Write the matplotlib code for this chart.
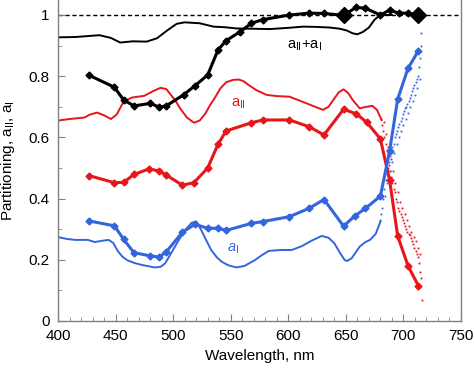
import matplotlib
matplotlib.use("Agg")
import matplotlib.pyplot as plt
from matplotlib.ticker import MultipleLocator, FuncFormatter

plt.rcParams['font.family'] = ['Liberation Sans', 'DejaVu Sans']
plt.rcParams['mathtext.fontset'] = 'custom'
plt.rcParams['mathtext.rm'] = 'Liberation Sans'
plt.rcParams['mathtext.it'] = 'Liberation Sans:italic'

# ---- data ----
black_x = [427, 449, 457, 466, 480, 488, 494, 509, 519, 530, 539, 546, 558, 568, 578, 601, 618, 631, 648, 659, 667, 680, 688, 696, 704, 713]
black_y = [0.803, 0.764, 0.722, 0.703, 0.711, 0.699, 0.703, 0.739, 0.769, 0.804, 0.886, 0.916, 0.945, 0.973, 0.985, 1.0, 1.006, 1.005, 0.999, 1.025, 1.022, 1.0, 1.016, 1.006, 1.006, 1.0]
black_big_idx = [18, 25]

red_x = [427, 449, 457, 466, 479, 488, 494, 508, 518, 530, 539, 546, 568, 578, 601, 618, 631, 648, 659, 668, 680, 688, 695, 704, 713]
red_y = [0.475, 0.452, 0.453, 0.479, 0.497, 0.490, 0.477, 0.444, 0.452, 0.500, 0.578, 0.621, 0.648, 0.657, 0.657, 0.635, 0.608, 0.692, 0.677, 0.650, 0.595, 0.46, 0.278, 0.180, 0.115]

blue_x = [427, 449, 457, 466, 480, 488, 494, 508, 519, 530, 539, 546, 568, 578, 601, 618, 631, 648, 658, 667, 680, 688, 695, 704, 713]
blue_y = [0.327, 0.311, 0.267, 0.223, 0.213, 0.209, 0.226, 0.290, 0.316, 0.303, 0.303, 0.296, 0.319, 0.325, 0.341, 0.368, 0.397, 0.310, 0.344, 0.368, 0.408, 0.556, 0.725, 0.826, 0.883]

black_thin_x = [400, 415, 436, 446, 454, 465, 477, 486, 495, 503, 510, 523, 535, 545, 555, 570, 584, 600, 613, 625, 636, 645, 651, 656, 660, 665, 670, 675, 680, 690]
black_thin_y = [0.927, 0.928, 0.934, 0.925, 0.910, 0.914, 0.913, 0.924, 0.950, 0.971, 0.976, 0.973, 0.962, 0.960, 0.956, 0.955, 0.954, 0.958, 0.962, 0.961, 0.959, 0.955, 0.949, 0.940, 0.937, 0.945, 0.959, 0.985, 1.0, 1.0]

red_thin_x = [400, 410, 423, 428, 434, 440, 446, 451, 457, 464, 475, 483, 489, 494, 497, 502, 506, 512, 518, 523, 528, 532, 536, 541, 546, 552, 557, 561, 566, 572, 581, 590, 601, 610, 620, 630, 635, 639, 644, 648, 652, 656, 662, 668, 673, 677, 681]
red_thin_y = [0.655, 0.660, 0.665, 0.675, 0.681, 0.672, 0.660, 0.675, 0.717, 0.730, 0.736, 0.752, 0.762, 0.758, 0.744, 0.720, 0.695, 0.665, 0.648, 0.655, 0.678, 0.705, 0.728, 0.760, 0.780, 0.788, 0.789, 0.784, 0.770, 0.755, 0.739, 0.735, 0.733, 0.720, 0.705, 0.690, 0.700, 0.722, 0.748, 0.757, 0.745, 0.722, 0.695, 0.700, 0.703, 0.690, 0.657]

blue_thin_x = [400, 408, 415, 426, 432, 438, 444, 448, 452, 456, 460, 466, 473, 480, 484, 489, 493, 498, 504, 510, 516, 520, 524, 529, 533, 538, 542, 548, 555, 562, 571, 577, 583, 593, 603, 612, 620, 629, 635, 640, 645, 649, 651, 655, 662, 667, 671, 676, 680]
blue_thin_y = [0.274, 0.268, 0.265, 0.265, 0.258, 0.262, 0.265, 0.255, 0.228, 0.210, 0.199, 0.190, 0.183, 0.178, 0.175, 0.177, 0.188, 0.220, 0.259, 0.295, 0.321, 0.325, 0.300, 0.262, 0.232, 0.208, 0.194, 0.182, 0.175, 0.180, 0.199, 0.215, 0.229, 0.232, 0.232, 0.245, 0.262, 0.278, 0.272, 0.254, 0.222, 0.199, 0.196, 0.205, 0.243, 0.258, 0.265, 0.285, 0.325]

red_dot_x = [680.5, 681.5, 682.5, 683.5, 684.5, 685.5, 686.5, 687.5, 688.5, 689.5, 690.5, 691.5, 692.5, 693.5, 694.5, 695.5, 696.5, 697.5, 698.5, 699.5, 700.5, 701.5, 702.5, 703.5, 704.5, 705.5, 706.5, 707.5, 708.5, 709.5, 710.5, 711.5, 712.5, 713.5, 714.5, 715.5, 715.8,
             683, 685, 687, 689, 691, 693, 695, 697, 699, 701, 703, 705, 707, 709, 711, 712.5, 714]
red_dot_y = [0.66, 0.64, 0.62, 0.60, 0.58, 0.56, 0.54, 0.51, 0.49, 0.47, 0.45, 0.43, 0.42, 0.40, 0.39, 0.37, 0.36, 0.35, 0.34, 0.33, 0.32, 0.31, 0.30, 0.29, 0.285, 0.28, 0.27, 0.26, 0.25, 0.24, 0.23, 0.22, 0.21, 0.19, 0.16, 0.14, 0.07,
             0.65, 0.61, 0.57, 0.53, 0.49, 0.45, 0.42, 0.39, 0.37, 0.35, 0.33, 0.31, 0.29, 0.275, 0.26, 0.24, 0.22]

blue_dot_x = [679.5, 680.5, 681.5, 682.5, 683.5, 684.5, 685.5, 686.5, 687.5, 688.5, 689.5, 690.5, 691.5, 692.5, 693.5, 694.5, 695.5, 696.5, 697.5, 698.5, 699.5, 700.5, 701.5, 702.5, 703.5, 704.5, 705.5, 706.5, 707.5, 708.5, 709.5, 710.5, 711.5, 712.5, 713.5, 714.5, 715, 715.5,
              684, 686, 688, 690, 692, 694, 696, 698, 700, 702, 704, 706, 708, 710, 712, 714]
blue_dot_y = [0.33, 0.35, 0.37, 0.40, 0.43, 0.46, 0.48, 0.50, 0.52, 0.54, 0.55, 0.57, 0.58, 0.60, 0.61, 0.62, 0.635, 0.645, 0.655, 0.665, 0.675, 0.685, 0.695, 0.70, 0.71, 0.72, 0.73, 0.74, 0.75, 0.76, 0.77, 0.78, 0.79, 0.80, 0.83, 0.86, 0.90, 0.94,
              0.41, 0.45, 0.49, 0.52, 0.55, 0.58, 0.60, 0.62, 0.64, 0.66, 0.68, 0.70, 0.72, 0.74, 0.76, 0.79]

RED = "#e8151b"
BLUE = "#3366dd"

fig = plt.figure(figsize=(4.74, 3.70), dpi=100)
ax = fig.add_axes([58/474, 49/370, 403/474, 321/370])

ax.axhline(1.0, color="black", lw=1.0, ls=(0, (3, 2)), zorder=1)

ax.plot(black_thin_x, black_thin_y, color="black", lw=1.4, zorder=2)
ax.plot(red_thin_x, red_thin_y, color=RED, lw=1.4, zorder=2)
ax.plot(blue_thin_x, blue_thin_y, color=BLUE, lw=1.4, zorder=2)

ax.plot(red_dot_x, red_dot_y, ls="none", marker="s", ms=1.3, mew=0, color=RED, zorder=2)
ax.plot(blue_dot_x, blue_dot_y, ls="none", marker="s", ms=1.3, mew=0, color=BLUE, zorder=2)

ax.plot(black_x, black_y, color="black", lw=2.2, marker="D", ms=3.5, zorder=3)
ax.plot([black_x[i] for i in black_big_idx], [black_y[i] for i in black_big_idx],
        ls="none", marker="D", ms=8, color="black", zorder=4)
ax.plot(red_x, red_y, color=RED, lw=2.2, marker="D", ms=3.5, zorder=3)
ax.plot(blue_x, blue_y, color=BLUE, lw=2.2, marker="D", ms=3.5, zorder=3)

ax.text(614, 0.90, "a$_{\\rm II}$+a$_{\\rm I}$", color="black", fontsize=10.5, ha="center", va="center")
ax.text(557, 0.71, "a$_{\\rm II}$", color=RED, fontsize=10.5, ha="center", va="center")
ax.text(552, 0.235, "$a_{\\rm I}$", color=BLUE, fontsize=10.5, ha="center", va="center")

ax.set_xlim(400, 750)
ax.set_ylim(0, 1.049)
ax.xaxis.set_major_locator(MultipleLocator(50))
ax.xaxis.set_minor_locator(MultipleLocator(10))
ax.yaxis.set_major_locator(MultipleLocator(0.2))
ax.yaxis.set_minor_locator(MultipleLocator(0.1))
ax.yaxis.set_major_formatter(FuncFormatter(lambda v, p: f"{v:g}"))
ax.tick_params(which="both", direction="in", top=False, right=False, colors="#808080", labelcolor="black", labelsize=11)
ax.tick_params(which="major", length=5, pad=6)
ax.tick_params(which="minor", length=3)
ax.spines["top"].set_visible(False)
for s in ["left", "right", "bottom"]:
    ax.spines[s].set_color("#808080")
    ax.spines[s].set_linewidth(1.0)

ax.set_xlabel("Wavelength, nm", fontsize=11, labelpad=4)
ax.set_ylabel("Partitioning, a$_{\\rm II}$, a$_{\\rm I}$", fontsize=11, labelpad=8)

fig.savefig("out.png", dpi=100)
